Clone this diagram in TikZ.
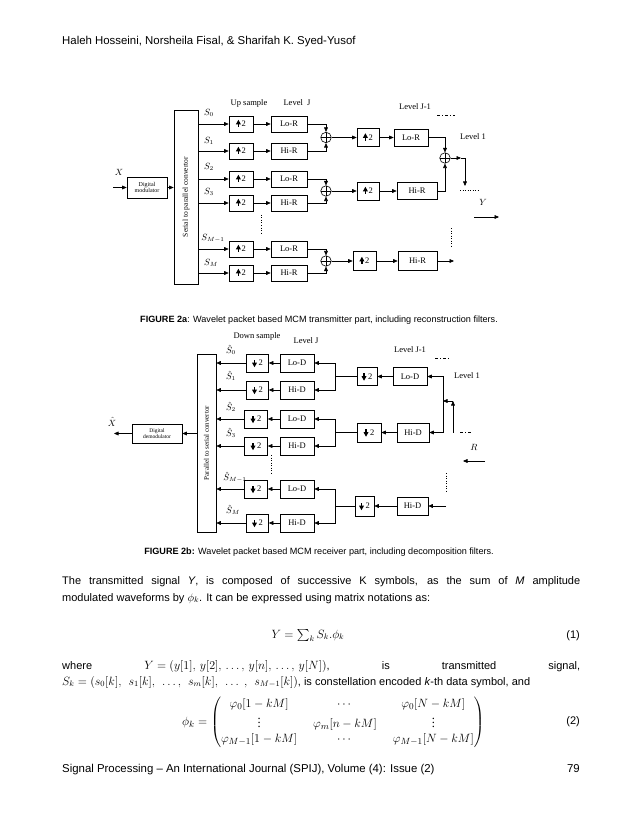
\documentclass[tikz,border=0pt]{standalone}
\usepackage{amsmath}
\usepackage{graphicx}
\usepackage{fontspec}
\setmainfont{Liberation Serif}
\newfontfamily\arialfont{Liberation Sans}
\usetikzlibrary{arrows.meta}
% up-sample box: name, x, y, width, height
\newcommand\upbx[5]{%
  \node[blk, minimum width=#4pt, minimum height=#5pt] (#1) at (#2,#3) {\hspace*{5.5pt}2};
  \fill ([xshift=-2.6pt,yshift=4.2pt]#1.center) -- ([xshift=-5.1pt,yshift=-0.3pt]#1.center) -- ([xshift=-0.1pt,yshift=-0.3pt]#1.center) -- cycle;
  \draw[line width=1.2pt] ([xshift=-2.6pt,yshift=0.5pt]#1.center) -- ([xshift=-2.6pt,yshift=-3.4pt]#1.center);
}
% down-sample box
\newcommand\dnbx[5]{%
  \node[blk, minimum width=#4pt, minimum height=#5pt] (#1) at (#2,#3) {\hspace*{6.5pt}2};
  \fill ([xshift=-3pt,yshift=-4.2pt]#1.center) -- ([xshift=-5.5pt,yshift=0.3pt]#1.center) -- ([xshift=-0.5pt,yshift=0.3pt]#1.center) -- cycle;
  \draw[line width=1.2pt] ([xshift=-3pt,yshift=-0.5pt]#1.center) -- ([xshift=-3pt,yshift=3.4pt]#1.center);
}
\begin{document}
\begin{tikzpicture}[x=1pt,y=-1pt,
  font=\fontsize{8.5}{10}\selectfont,
  blk/.style={draw, line width=0.6pt, inner sep=0pt, minimum height=16pt},
  arr/.style={line width=0.6pt, -{Triangle[length=4.5pt,width=3.8pt]}},
  ln/.style={line width=0.6pt},
  sum/.style={circle, draw, line width=0.6pt, minimum size=10.5pt, inner sep=0pt,
    path picture={\draw[line width=0.6pt] (path picture bounding box.north) -- (path picture bounding box.south)
      (path picture bounding box.west) -- (path picture bounding box.east);}},
  dots/.style={line width=0.6pt, dash pattern=on 1pt off 1.5pt},
  dashdot/.style={line width=0.6pt, dash pattern=on 3pt off 2pt on 1pt off 2pt},
  lbl/.style={inner sep=0pt},
  slbl/.style={inner sep=0pt, font=\fontsize{9}{10}\selectfont},
  body/.style={inner sep=0pt, font=\arialfont\fontsize{11}{13}\selectfont},
  small/.style={inner sep=0pt, font=\arialfont\fontsize{11.4}{13}\selectfont},
  capt/.style={inner sep=0pt, font=\arialfont\fontsize{9.1}{11}\selectfont}
]
\fill[white] (0,0) rectangle (638,826);
\useasboundingbox (0,0) rectangle (638,826);

% ---------- header ----------
\node[small, anchor=base west] (hdr) at (62,45) {Haleh Hosseini, Norsheila Fisal, \& Sharifah K. Syed-Yusof};

% ---------- transmitter ----------
\node[blk, minimum width=40pt, minimum height=21pt, font=\fontsize{6}{6.5}\selectfont, align=center] (mod) at (147,187.5) {Digital\\modulator};
\node[blk, minimum width=24pt, minimum height=174pt] (sp) at (186,197) {\rotatebox{90}{\fontsize{7.5}{9}\selectfont Serial to parallel convertor}};
\coordinate (xin) at (113,187.5);
\draw[arr] (xin) -- (mod.west);
\draw[arr] (mod.east) -- (sp.west |- mod.east);
\node[slbl] (xl) at (119,172) {$X$};

\upbx{u0}{241}{124}{24}{16}
\upbx{u1}{241}{151}{24}{16}
\upbx{u2}{241}{179}{24}{16}
\upbx{u3}{241}{203}{24}{16}
\upbx{u4}{241}{249}{24}{16}
\upbx{u5}{241}{273}{24}{16}

\node[blk, minimum width=36pt] (f0) at (289,124) {Lo-R};
\node[blk, minimum width=36pt] (f1) at (289,151) {Hi-R};
\node[blk, minimum width=36pt] (f2) at (289,179) {Lo-R};
\node[blk, minimum width=36pt] (f3) at (289,203) {Hi-R};
\node[blk, minimum width=36pt] (f4) at (289,249) {Lo-R};
\node[blk, minimum width=36pt] (f5) at (289,273) {Hi-R};

\foreach \i in {0,...,5}{
  \draw[arr] (sp.east |- u\i) -- (u\i.west);
  \draw[arr] (u\i.east) -- (f\i.west);
}

\node[slbl] (s0) at (209,113) {$S_0$};
\node[slbl] (s1) at (209,141) {$S_1$};
\node[slbl] (s2) at (209,167) {$S_2$};
\node[slbl] (s3) at (209,192) {$S_3$};
\node[slbl] (s4) at (213,238) {$S_{M-1}$};
\node[slbl] (s5) at (211,263) {$S_M$};

\node[sum] (p1) at (326,137.5) {};
\node[sum] (p2) at (326,191) {};
\node[sum] (p3) at (326,261) {};
\draw[arr] (f0.east) -| (p1.north);
\draw[arr] (f1.east) -| (p1.south);
\draw[arr] (f2.east) -| (p2.north);
\draw[arr] (f3.east) -| (p2.south);
\draw[arr] (f4.east) -| (p3.north);
\draw[arr] (f5.east) -| (p3.south);

\upbx{v1}{368}{137.5}{22}{18}
\upbx{v2}{368}{191}{22}{18}
\upbx{v3}{364.5}{261}{23}{19}
\node[blk, minimum width=34pt, minimum height=17pt] (r1) at (411,137.5) {Lo-R};
\node[blk, minimum width=40pt, minimum height=17pt] (r2) at (417,191) {Hi-R};
\node[blk, minimum width=39pt, minimum height=19pt] (r3) at (417.5,261) {Hi-R};
\draw[arr] (p1.east) -- (v1.west);
\draw[arr] (p2.east) -- (v2.west);
\draw[arr] (p3.east) -- (v3.west);
\draw[arr] (v1.east) -- (r1.west);
\draw[arr] (v2.east) -- (r2.west);
\draw[arr] (v3.east) -- (r3.west);
\coordinate (r3o) at (454,261);
\draw[arr] (r3.east) -- (r3o);

\node[sum] (p4) at (445,158) {};
\draw[arr] (r1.east) -| (p4.north);
\draw[arr] (r2.east) -| (p4.south);
\coordinate (c1) at (461,158);
\coordinate (c2) at (465,158);
\coordinate (c3) at (465,186);
\draw[arr] (p4.east) -- (c1);
\draw[ln] (c1) -- (c2);
\draw[arr] (c2) -- (c3);

\coordinate (ya) at (474,217);
\coordinate (yb) at (499,217);
\draw[arr] (ya) -- (yb);
\node[slbl] (yl) at (483,202) {$Y$};

\draw[dashdot] (437,115) -- (455,115);
\draw[dots] (460,190) -- (478,190);
\draw[dots] (261,215) -- (261,234);
\draw[dots] (451,228) -- (451,247);

\node[lbl] (t1) at (249,103) {Up sample};
\node[lbl] (t2) at (297,103) {Level\ \ J};
\node[lbl] (t3) at (415,107) {Level J-1};
\node[lbl] (t4) at (473,137) {Level 1};

\node[capt, anchor=base] (cap1) at (319,322) {\textbf{FIGURE 2a}: Wavelet packet based MCM transmitter part, including reconstruction filters.};

% ---------- receiver ----------
\node[blk, minimum width=19pt, minimum height=178pt] (ps) at (206.5,443) {\rotatebox{90}{\fontsize{7}{8.5}\selectfont Parallel to serial convertor}};
\node[blk, minimum width=50pt, minimum height=19pt, font=\fontsize{5.5}{6}\selectfont, align=center] (dem) at (157,433.5) {Digital\\demodulator};
\coordinate (xout) at (114,433.5);
\draw[arr] (ps.west |- dem) -- (dem.east);
\draw[arr] (dem.west) -- (xout);
\node[slbl] (xh) at (112,422) {$\hat{X}$};

\dnbx{d0}{257.5}{363}{22}{18}
\dnbx{d1}{257.5}{390}{22}{18}
\dnbx{d2}{256}{419}{23}{18}
\dnbx{d3}{256}{446}{23}{18}
\dnbx{d4}{256}{489}{23}{18}
\dnbx{d5}{257.5}{523}{22}{18}

\node[blk, minimum width=34pt, minimum height=18pt] (e0) at (297,363) {Lo-D};
\node[blk, minimum width=34pt, minimum height=18pt] (e1) at (297,390) {Hi-D};
\node[blk, minimum width=34pt, minimum height=18pt] (e2) at (297,419) {Lo-D};
\node[blk, minimum width=34pt, minimum height=18pt] (e3) at (297,446) {Hi-D};
\node[blk, minimum width=34pt, minimum height=18pt] (e4) at (297,489) {Lo-D};
\node[blk, minimum width=34pt, minimum height=18pt] (e5) at (297,523) {Hi-D};

\foreach \i in {0,...,5}{
  \draw[arr] (d\i.west) -- (ps.east |- d\i);
  \draw[arr] (e\i.west) -- (d\i.east);
}

\node[slbl] (h0) at (231,350) {$\hat{S}_0$};
\node[slbl] (h1) at (231,376) {$\hat{S}_1$};
\node[slbl] (h2) at (231,407) {$\hat{S}_2$};
\node[slbl] (h3) at (231,433) {$\hat{S}_3$};
\node[slbl] (h4) at (235,477) {$\hat{S}_{M-1}$};
\node[slbl] (h5) at (233,510) {$\hat{S}_M$};

\coordinate (k1) at (335,376.5);
\coordinate (k2) at (335,432.5);
\coordinate (k3) at (335,506);
\draw[arr] (k1) |- (e0.east);
\draw[arr] (k1) |- (e1.east);
\draw[arr] (k2) |- (e2.east);
\draw[arr] (k2) |- (e3.east);
\draw[arr] (k3) |- (e4.east);
\draw[arr] (k3) |- (e5.east);

\dnbx{w1}{367}{376.5}{20}{18}
\dnbx{w2}{369}{432.5}{24}{19}
\dnbx{w3}{364.5}{506}{19}{20}
\draw[ln] (w1.west) -- (k1);
\draw[ln] (w2.west) -- (k2);
\draw[ln] (w3.west) -- (k3);

\node[blk, minimum width=34pt, minimum height=18pt] (g1) at (410,376.5) {Lo-D};
\node[blk, minimum width=32pt, minimum height=19pt] (g2) at (413,432.5) {Hi-D};
\node[blk, minimum width=31pt, minimum height=18pt] (g3) at (412.5,506) {Hi-D};
\draw[arr] (g1.west) -- (w1.east);
\draw[arr] (g2.west) -- (w2.east);
\draw[arr] (g3.west) -- (w3.east);

\coordinate (k4) at (443,401);
\coordinate (m1) at (453,432.5);
\coordinate (m2) at (453,401);
\draw[arr] (k4) |- (g1.east);
\draw[arr] (k4) |- (g2.east);
\draw[arr] (m1) -- (m2);
\draw[arr] (m2) -- (k4);
\coordinate (g3i) at (446,506);
\draw[arr] (g3i) -- (g3.east);

\coordinate (ra) at (485,461);
\coordinate (rb) at (463,461);
\draw[arr] (ra) -- (rb);
\node[slbl] (rl) at (474,447) {$R$};

\draw[dashdot] (435,358) -- (450,358);
\draw[dashdot] (460,432.5) -- (472,432.5);
\draw[dots] (271,455) -- (271,475);
\draw[dots] (446,473) -- (446,493);

\node[lbl] (b1) at (257,336) {Down sample};
\node[lbl] (b2) at (306,341) {Level J};
\node[lbl] (b3) at (410,350) {Level J-1};
\node[lbl] (b4) at (467,376) {Level 1};

\node[capt, anchor=base] (cap2) at (319,554) {\textbf{FIGURE 2b:} Wavelet packet based MCM receiver part, including decomposition filters.};

% ---------- text ----------
\node[body, anchor=base west] (l1) at (62,584) {\hbox to 518pt{The transmitted signal \textit{Y}, is composed of successive K symbols, as the sum of \textit{M} amplitude}};
\node[body, anchor=base west] (l2) at (62,601) {modulated waveforms by $\phi_k$. It can be expressed using matrix notations as:};
\node[body, anchor=base, font=\fontsize{12}{14}\selectfont] (eq1) at (308,638) {$Y = \textstyle\sum_k S_k.\phi_k$};
\node[body, anchor=base east] (n1) at (580,638) {(1)};
\node[body, anchor=base west] (l3) at (62,669) {\hbox to 518pt{where\hfill {\fontsize{12}{14}\selectfont$Y = (y[1],\, y[2],\, \ldots,\, y[n],\, \ldots,\, y[N])$},\hfill is\hfill transmitted\hfill signal,}};
\node[body, anchor=base west] (l4) at (62,685) {{\fontsize{12}{14}\selectfont$S_k = (s_0[k],\hspace{5pt} s_1[k],\hspace{5pt} \ldots,\hspace{5pt} s_m[k],\hspace{5pt} \ldots\ ,\hspace{5pt} s_{M-1}[k])$}, is constellation encoded \textit{k}-th data symbol, and};
\node[inner sep=0pt, anchor=west, font=\fontsize{12.5}{15}\selectfont] (eq2) at (182,722) {$\setlength{\arraycolsep}{8pt}\phi_k = \begin{pmatrix} \varphi_0[1-kM] & \cdots & \varphi_0[N-kM]\\ \vdots & \varphi_m[n-kM] & \vdots\\ \varphi_{M-1}[1-kM] & \cdots & \varphi_{M-1}[N-kM]\end{pmatrix}$};
\node[body, anchor=east] (n2) at (580,722) {(2)};

% ---------- footer ----------
\node[small, anchor=base west] (ftr) at (62,772) {Signal Processing – An International Journal (SPIJ), Volume (4): Issue (2)};
\node[small, anchor=base east] (pg) at (580,772) {79};
\end{tikzpicture}
\end{document}
